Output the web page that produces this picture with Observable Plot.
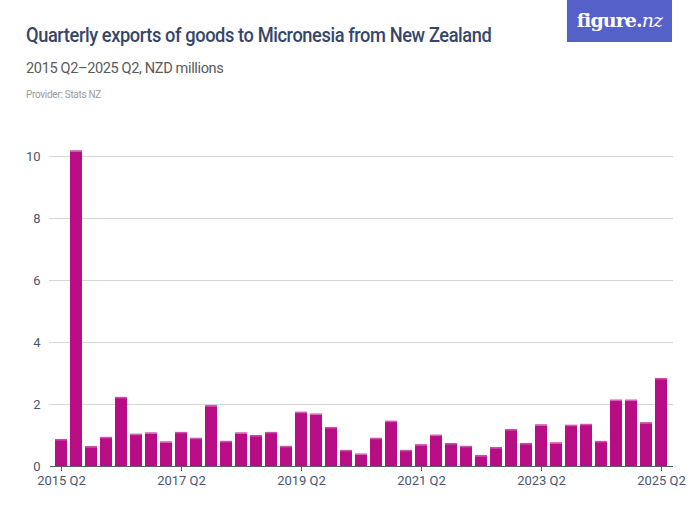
<!DOCTYPE html>
<html>
<head>
<meta charset="utf-8">
<script src="https://cdn.jsdelivr.net/npm/d3@7"></script>
<script src="https://cdn.jsdelivr.net/npm/@observablehq/plot@0.6"></script>
<style>
  html, body { margin: 0; padding: 0; background: #fff; }
  body { width: 700px; height: 525px; position: relative; overflow: hidden; font-family: Roboto, "Noto Sans", sans-serif; }
  .title { position: absolute; left: 26px; top: 23px; font-size: 20.5px; font-weight: 500; color: #36466a; letter-spacing: -0.45px; white-space: nowrap;
           transform: scaleX(0.89); transform-origin: left top; }
  .subtitle { position: absolute; left: 26px; top: 59px; font-size: 15.5px; color: #5a5a5a; letter-spacing: -0.4px; white-space: nowrap;
              transform: scaleX(0.94); transform-origin: left top; }
  .provider { position: absolute; left: 26px; top: 89px; font-size: 10px; color: #9a9a9a; letter-spacing: -0.3px; white-space: nowrap; }
  .logo { position: absolute; left: 567px; top: 0; width: 105px; height: 42px; background: #5660c9; color: #fff;
          font-family: "DejaVu Serif", "Liberation Serif", serif; font-size: 19px; font-weight: bold; letter-spacing: -0.9px;
          display: flex; align-items: center; justify-content: center; padding-bottom: 3px; box-sizing: border-box; }
  .logo i { font-weight: normal; }
  #chart { position: absolute; left: 0; top: 110px; }
</style>
</head>
<body>
<div class="title">Quarterly exports of goods to Micronesia from New Zealand</div>
<div class="subtitle">2015 Q2–2025 Q2, NZD millions</div>
<div class="provider">Provider: Stats NZ</div>
<div class="logo">figure.<i>nz</i></div>
<div id="chart"></div>
<script>
// Quarter labels, 2015 Q2 through 2025 Q2
const quarters = [
  "2015 Q2", "2015 Q3", "2015 Q4",
  "2016 Q1", "2016 Q2", "2016 Q3", "2016 Q4",
  "2017 Q1", "2017 Q2", "2017 Q3", "2017 Q4",
  "2018 Q1", "2018 Q2", "2018 Q3", "2018 Q4",
  "2019 Q1", "2019 Q2", "2019 Q3", "2019 Q4",
  "2020 Q1", "2020 Q2", "2020 Q3", "2020 Q4",
  "2021 Q1", "2021 Q2", "2021 Q3", "2021 Q4",
  "2022 Q1", "2022 Q2", "2022 Q3", "2022 Q4",
  "2023 Q1", "2023 Q2", "2023 Q3", "2023 Q4",
  "2024 Q1", "2024 Q2", "2024 Q3", "2024 Q4",
  "2025 Q1", "2025 Q2"
];

// Export value per quarter, NZD millions
const exportsNZD = [
  0.87, 10.18, 0.64,
  0.94, 2.23, 1.04, 1.08,
  0.79, 1.10, 0.91, 1.96,
  0.81, 1.08, 1.00, 1.10,
  0.65, 1.75, 1.69, 1.26,
  0.52, 0.40, 0.91, 1.46,
  0.52, 0.70, 1.01, 0.74,
  0.65, 0.35, 0.61, 1.19,
  0.74, 1.34, 0.76, 1.33,
  1.36, 0.81, 2.14, 2.14,
  1.41, 2.84
];

// Labelled x ticks and y ticks
const xTickLabels = ["2015 Q2", "2017 Q2", "2019 Q2", "2021 Q2", "2023 Q2", "2025 Q2"];
const yTicks = [0, 2, 4, 6, 8, 10];

const rows = quarters.map((q, i) => ({quarter: q, value: exportsNZD[i]}));

const barColor = "#b90d86";
const barTop = "#dc86c3";

const chart = Plot.plot({
  width: 700,
  height: 400,
  marginLeft: 52,
  marginRight: 30,
  marginTop: 33.6,
  marginBottom: 44,
  style: {fontFamily: "Roboto, sans-serif", fontSize: "13px", color: "#4a5573", background: "transparent"},
  x: {type: "band", domain: quarters, padding: 0.2, label: null},
  y: {domain: [0, 10.4], label: null},
  marks: [
    Plot.ruleY(yTicks.filter(d => d > 0), {stroke: "#d6d6d6", strokeWidth: 1, insetLeft: -3, insetRight: -3}),
    Plot.barY(rows, {x: "quarter", y: "value", fill: barColor}),
    Plot.tickY(rows, {x: "quarter", y: "value", stroke: barTop, strokeWidth: 0.8, dy: 0.4}),
    Plot.ruleY([0], {stroke: "#5c5c5c", strokeWidth: 1.2, insetLeft: -2, insetRight: -3}),
    Plot.axisY(yTicks, {tickSize: 0, tickPadding: 12, fontSize: 13, fill: "#4a5573", letterSpacing: -0.3}),
    Plot.axisX(xTickLabels, {tickSize: 5, stroke: "#5c5c5c", tickPadding: 4, fontSize: 13, fill: "#4a5573", letterSpacing: -1})
  ]
});
document.getElementById("chart").appendChild(chart);
</script>
</body>
</html>
